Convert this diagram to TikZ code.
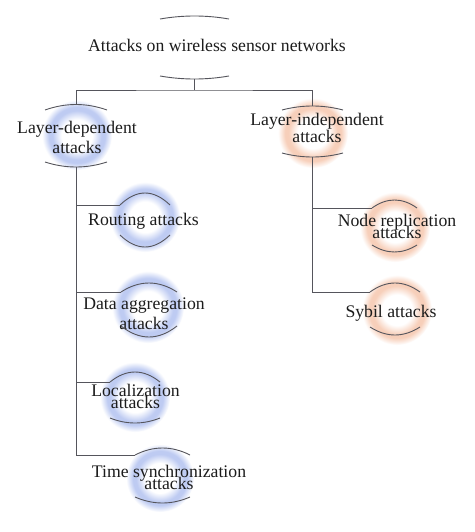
\documentclass[tikz,border=0pt]{standalone}
\usepackage{fontspec}
\setmainfont{Liberation Serif}
\definecolor{gblue}{RGB}{190,203,242}
\definecolor{gorange}{RGB}{247,207,186}
\definecolor{linegray}{RGB}{85,85,92}
\definecolor{txt}{RGB}{28,28,28}
\pgfdeclareradialshading{ringblue}{\pgfpoint{0bp}{0bp}}{color(0bp)=(white); color(11bp)=(white); color(17.5bp)=(gblue); color(20bp)=(gblue); color(25bp)=(white); color(50bp)=(white)}
\pgfdeclareradialshading{ringorange}{\pgfpoint{0bp}{0bp}}{color(0bp)=(white); color(11bp)=(white); color(17.5bp)=(gorange); color(20bp)=(gorange); color(25bp)=(white); color(50bp)=(white)}
\tikzset{
  capline/.style={draw=linegray, line width=0.9pt},
  conn/.style={draw=linegray, line width=0.9pt},
  lbl/.style={font=\fontsize{17.7}{20}\selectfont, text=txt, align=center, inner sep=0pt, anchor=base},
}
\newcommand\glowring[4]{\shade[shading=#4] (#1,#2) circle (#3);}
% name, x-left, x-right, top end y, top peak y, bottom end y, bottom peak y
\newcommand\capsarcs[7]{%
  \coordinate (#1-tl) at (#2,#4); \coordinate (#1-tr) at (#3,#4);
  \coordinate (#1-t) at ({(#2+#3)/2},#5);
  \coordinate (#1-bl) at (#2,#6); \coordinate (#1-br) at (#3,#6);
  \coordinate (#1-b) at ({(#2+#3)/2},#7);
  \draw[capline] (#1-tl) .. controls ({#2+(#3-#2)/3},{#4+4*(#5-#4)/3}) and ({#3-(#3-#2)/3},{#4+4*(#5-#4)/3}) .. (#1-tr);
  \draw[capline] (#1-bl) .. controls ({#2+(#3-#2)/3},{#6+4*(#7-#6)/3}) and ({#3-(#3-#2)/3},{#6+4*(#7-#6)/3}) .. (#1-br);
}
\begin{document}
\begin{tikzpicture}[x=1pt,y=-1pt]
\useasboundingbox (0,0) rectangle (474,532);
\fill[white] (0,0) rectangle (474,532);
% glows
\glowring{77}{135}{35}{ringblue}
\glowring{313}{133}{35}{ringorange}
\glowring{145}{217}{35}{ringblue}
\glowring{148}{307}{36}{ringblue}
\glowring{135}{397}{35}{ringblue}
\glowring{160}{478}{34}{ringblue}
\glowring{395}{227}{35}{ringorange}
\glowring{397}{310}{35}{ringorange}
% labels (anchor base = baseline of the last line)
\node[lbl] (title) at (217,52) {Attacks on wireless sensor networks};
\node[lbl] (ld) at (77,153) {Layer-dependent\\attacks};
\node[lbl] (li) at (317,142) {Layer-independent\\[-3pt]attacks};
\node[lbl] (ra) at (143.5,225) {Routing attacks};
\node[lbl] (da) at (144,329) {Data aggregation\\attacks};
\node[lbl] (lo) at (135.5,408) {Localization\\[-8pt]attacks};
\node[lbl] (ts) at (169,489) {Time synchronization\\[-8pt]attacks};
\node[lbl] (nr) at (397,238) {Node replication\\[-8pt]attacks};
\node[lbl] (sy) at (391,317) {Sybil attacks};
% caps
\capsarcs{tc}{160}{229}{19}{16}{76}{79}
\capsarcs{ldc}{45}{107}{110}{104.5}{162}{167}
\capsarcs{lic}{282}{343}{110}{106}{153}{157}
\capsarcs{rac}{120}{170}{205}{193}{235}{247}
\capsarcs{dac}{121}{177}{292}{283}{326}{337}
\capsarcs{loc}{110}{160}{382}{372}{418}{423}
\capsarcs{tsc}{135}{190}{455}{448}{497}{503}
\capsarcs{nrc}{372}{417}{208}{200}{245}{252}
\capsarcs{syc}{370}{420}{292}{283}{327}{335}
% connectors
\coordinate (j) at (194.5,90);
\draw[conn] (tc-b) -- (j);
\draw[conn] (ldc-t) |- (j) -| (lic-t);
\draw[conn] (ldc-b) |- (tsc-tl);
\draw[conn] (ldc-b |- rac-tl) -- (rac-tl);
\draw[conn] (ldc-b |- dac-tl) -- (dac-tl);
\draw[conn] (ldc-b |- loc-tl) -- (loc-tl);
\draw[conn] (lic-b) |- (syc-tl);
\draw[conn] (lic-b |- nrc-tl) -- (nrc-tl);
\end{tikzpicture}
\end{document}
